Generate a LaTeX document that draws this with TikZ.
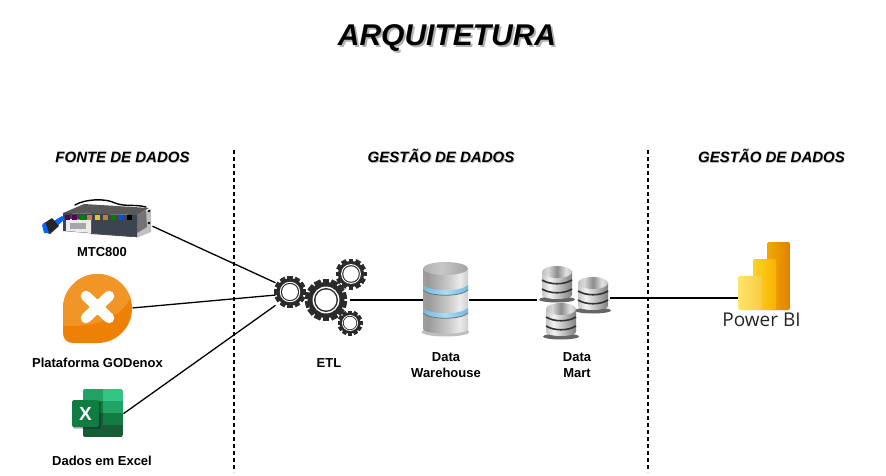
\documentclass[tikz,border=0pt]{standalone}
\usepackage{fontspec}
\setmainfont{Liberation Sans}
\newfontfamily\pbifont{Open Sans}
\usetikzlibrary{calc}
\definecolor{bluemid}{HTML}{A9DDF2}
\definecolor{blueside}{HTML}{5FA6D6}
\pgfdeclarehorizontalshading{steelbody}{100bp}{color(0bp)=(black!48);color(10bp)=(black!32);color(30bp)=(black!40);color(52bp)=(black!22);color(66bp)=(black!8);color(82bp)=(black!30);color(100bp)=(black!50)}
\pgfdeclarehorizontalshading{steeltop}{100bp}{color(0bp)=(black!42);color(45bp)=(black!22);color(100bp)=(black!48)}
\pgfdeclarehorizontalshading{smallbody}{100bp}{color(0bp)=(black!68);color(16bp)=(black!35);color(38bp)=(black!5);color(60bp)=(black!32);color(85bp)=(black!62);color(100bp)=(black!42)}
\pgfdeclarehorizontalshading{smalltop}{100bp}{color(0bp)=(black!50);color(35bp)=(black!15);color(50bp)=(black!45);color(65bp)=(black!12);color(100bp)=(black!55)}
\pgfdeclarehorizontalshading{bluegap}{100bp}{color(0bp)=(black!45);color(14bp)=(blueside);color(50bp)=(bluemid);color(86bp)=(blueside);color(100bp)=(black!45)}
\definecolor{gearcol}{HTML}{2B2B2B}
\definecolor{godlight}{HTML}{F29527}
\definecolor{goddark}{HTML}{EF8006}
\definecolor{xa}{HTML}{21A366}
\definecolor{xb}{HTML}{33C481}
\definecolor{xc}{HTML}{107C41}
\definecolor{xd}{HTML}{185C37}
\definecolor{slate}{HTML}{3C4450}
\definecolor{pa}{HTML}{FFE56B}
\definecolor{pb}{HTML}{F8CB42}
\definecolor{pc}{HTML}{FFD126}
\definecolor{pd}{HTML}{F6B400}
\definecolor{pe}{HTML}{F2A800}
\definecolor{pf}{HTML}{DF8300}
\tikzset{
  titletext/.style={font=\fontsize{30}{36}\selectfont\bfseries\itshape,anchor=base},
  headtext/.style={font=\fontsize{15}{18}\selectfont\bfseries\itshape,anchor=base},
  labeltext/.style={font=\fontsize{13}{16}\selectfont\bfseries,anchor=base,align=center},
  wire/.style={line width=1.3pt,black},
  divider/.style={line width=1.25pt,black,dash pattern=on 4pt off 3pt},
  spot/.style={inner sep=0pt,outer sep=0pt,minimum size=1pt}
}
% gear: cx cy outer-radius teeth
\newcommand\gearicon[4]{%
  \foreach \a in {1,...,#4}{%
    \pgfmathsetmacro\ang{\a*360/#4}%
    \fill[gearcol,shift={(#1,#2)},rotate=\ang] (-#3*0.16,-#3) rectangle (#3*0.16,#3);%
  }%
  \fill[gearcol] (#1,#2) circle [radius=#3*0.85];%
  \fill[white] (#1,#2) circle [radius=#3*0.64];%
  \fill[gearcol] (#1,#2) circle [radius=#3*0.57];%
  \fill[white] (#1,#2) circle [radius=#3*0.5];%
}
% cylinder section: x1 x2 top bottom ry shading
\newcommand\cylbody[6]{%
  \path[shading=#6] (#1,#3) -- (#1,#4) .. controls (#1,#4+#5*1.33) and (#2,#4+#5*1.33) .. (#2,#4) -- (#2,#3) -- cycle;%
}
% curved blue band of the warehouse: top y
\newcommand\blueband[1]{%
  \path[shading=bluegap] (423,#1) .. controls (430,#1+7) and (461,#1+7) .. (468,#1) -- (468,#1+5) .. controls (461,#1+12) and (430,#1+12) .. (423,#1+5) -- cycle;%
  \draw[black!55,line width=.8pt] (423,#1+5) .. controls (430,#1+12) and (461,#1+12) .. (468,#1+5);%
}
% small database: left x, top y
\newcommand\dbsmall[2]{%
  \fill[black!75,opacity=.8] (#1+15,#2+33.5) ellipse [x radius=18,y radius=3];%
  \cylbody{#1}{#1+30}{#2+5}{#2+29}{4}{smallbody}%
  \draw[black!80,line width=1.6pt] (#1,#2+14) .. controls (#1+8,#2+19) and (#1+22,#2+19) .. (#1+30,#2+14);%
  \draw[black!80,line width=1.6pt] (#1,#2+23) .. controls (#1+8,#2+28) and (#1+22,#2+28) .. (#1+30,#2+23);%
  \path[shading=smalltop] (#1+15,#2+6) ellipse [x radius=15,y radius=6];%
}
\begin{document}
\begin{tikzpicture}[x=1pt,y=-1pt]
\useasboundingbox (0,0) rectangle (886,476);
\fill[white] (0,0) rectangle (886,476);

% anchors for connectors
\node[spot] (mtc)  at (152,226) {};
\node[spot] (god)  at (132,308) {};
\node[spot] (xls)  at (123,414) {};
\node[spot] (etlA) at (276,283) {};
\node[spot] (etlB) at (276,295) {};
\node[spot] (etlC) at (276,305) {};
\node[spot] (etlR) at (349,300) {};
\node[spot] (dwL)  at (423,300) {};
\node[spot] (dwR)  at (468,300) {};
\node[spot] (dmL)  at (537,300) {};
\node[spot] (dmR)  at (609,298) {};
\node[spot] (pbi)  at (739,298) {};
\coordinate (divAt) at (234,150);
\coordinate (divAb) at (234,472);
\coordinate (divBt) at (648,150);
\coordinate (divBb) at (648,472);

\draw[divider] (divAt) -- (divAb);
\draw[divider] (divBt) -- (divBb);
\draw[wire] (mtc) -- (etlA);
\draw[wire] (god) -- (etlB);
\draw[wire] (xls) -- (etlC);
\draw[wire] (etlR) -- (dwL);
\draw[wire] (dwR) -- (dmL);
\draw[wire] (dmR) -- (pbi);

% Title and headers
\node[titletext,black!30] at (449,48) {ARQUITETURA};
\node[titletext] (title) at (447,46) {ARQUITETURA};
\node[headtext,black!25] at (123,163.5) {FONTE DE DADOS};
\node[headtext,black!25] at (442,163.5) {GESTÃO DE DADOS};
\node[headtext,black!25] at (772,163.5) {GESTÃO DE DADOS};
\node[headtext] (h1) at (122.5,162.5) {FONTE DE DADOS};
\node[headtext] (h2) at (441,162.5) {GESTÃO DE DADOS};
\node[headtext] (h3) at (771.5,162.5) {GESTÃO DE DADOS};

% MTC800 device
\fill[black!25] (137,215) -- (151,209) -- (151,232) -- (136,238) -- cycle;
\fill[black!55] (137,215) -- (146,210) -- (147,227) -- (137,233) -- cycle;
\fill[black!65] (63,213) -- (84,204) -- (149,208) -- (137,215) -- cycle;
\fill[slate] (63,213) -- (137,215) -- (137,237) -- (63,231) -- cycle;
\fill[black!8] (66,219) -- (91,220) -- (91,233) -- (66,231) -- cycle;
\fill[black!35] (70,223) rectangle (86,229);
\fill[black!70] (91,233) -- (133,236) -- (133,237) -- (91,234) -- cycle;
\draw[black,line width=1.4pt,line cap=round] (75,205) .. controls (85,199) and (105,198) .. (115,203) .. controls (125,207) and (135,204) .. (146,207);
\foreach \px/\pc in {67/violet!70!black,74/violet!70!black,82/green!50!black,89/brown,97/yellow!50!brown,105/brown,113/green!50!black,121/blue!70!cyan,129/black}{
  \fill[\pc] (\px-2,214.5) rectangle (\px+2.5,219.5);
}
\fill[blue!60!cyan] (52,222) -- (62,216) -- (65,219) -- (55,228) -- cycle;
\fill[black!85] (43,224) -- (52,218) -- (59,226) -- (50,234) -- (45,232) -- cycle;
\fill[blue!60!cyan] (42,225) -- (45,222) -- (49,233) -- (44,233) -- cycle;
\fill[black] (149,211) circle [radius=1.4];
\fill[black] (149,223) circle [radius=1.4];

% GODenox drop
\fill[goddark] (63,308.5) .. controls (63,289.5) and (78.5,274) .. (97.5,274)
  .. controls (116.5,274) and (132,289.5) .. (132,308.5)
  .. controls (132,327.5) and (116.5,343) .. (97.5,343)
  -- (73,343) .. controls (67,343) and (63,339) .. (63,333) -- cycle;
\fill[godlight] (63,308.5) .. controls (63,289.5) and (78.5,274) .. (97.5,274)
  .. controls (113,274) and (126,284) .. (130.5,298)
  .. controls (120,318) and (95,328) .. (63,325.5) -- cycle;
\draw[white,line width=10.5pt,line cap=round] (86,296) -- (109,318);
\draw[white,line width=10.5pt,line cap=round] (109,296) -- (86,318);
\fill[white] (97.5,307) circle [radius=8];

% Excel icon
\begin{scope}
  \clip[rounded corners=2pt] (83,389) rectangle (123,437);
  \fill[xa] (83,389) rectangle (103,401);
  \fill[xb] (103,389) rectangle (123,401);
  \fill[xc] (83,401) rectangle (103,413);
  \fill[xa] (103,401) rectangle (123,413);
  \fill[xd] (83,413) rectangle (103,437);
  \fill[xc] (103,413) rectangle (123,425);
  \fill[xd] (103,425) rectangle (123,437);
\end{scope}
\fill[black,opacity=.3,rounded corners=1.5pt] (73,401) rectangle (100.5,428.5);
\fill[xc,rounded corners=1.5pt] (72,400) rectangle (99,427);
\node[font=\fontsize{19}{19}\selectfont\bfseries,text=white,anchor=base] (xlsx) at (85.5,420) {X};

% ETL gears
\gearicon{290}{292}{16}{12}
\gearicon{326}{300}{21}{14}
\gearicon{351}{274}{15.5}{12}
\gearicon{350}{323}{12.5}{12}

% Data Warehouse cylinder
\fill[black!25] (445.5,332) ellipse [x radius=24,y radius=4.5];
\cylbody{423}{468}{268}{329}{4.5}{steelbody}
\blueband{285}
\blueband{308}
\path[shading=steeltop] (445.5,268.5) ellipse [x radius=22.5,y radius=6.5];

% Data Mart cylinders
\dbsmall{542}{266}
\dbsmall{578}{277}
\dbsmall{546}{303}

% Power BI
\path[left color=pe,right color=pf,rounded corners=1.5pt] (767,242) rectangle (790,310);
\path[left color=pc,right color=pd,rounded corners=1.5pt] (753,259) rectangle (776,310);
\path[left color=pa,right color=pb,rounded corners=1.5pt] (738,276) rectangle (762,310);

% Labels
\node[labeltext] (lmtc) at (102,256.5) {MTC800};
\node[labeltext] (lgod) at (97.5,367) {Plataforma GODenox};
\node[labeltext] (lxls) at (102,465) {Dados em Excel};
\node[labeltext] (letl) at (329,367) {ETL};
\node[labeltext] (ldw1) at (446,361) {Data};
\node[labeltext] (ldw2) at (446,377) {Warehouse};
\node[labeltext] (ldm1) at (577,361) {Data};
\node[labeltext] (ldm2) at (577,377) {Mart};
\node[font=\pbifont\fontsize{19}{19}\selectfont,anchor=base,text=black!85] (lpbi) at (761.5,326.5) {Power BI};
\end{tikzpicture}
\end{document}
